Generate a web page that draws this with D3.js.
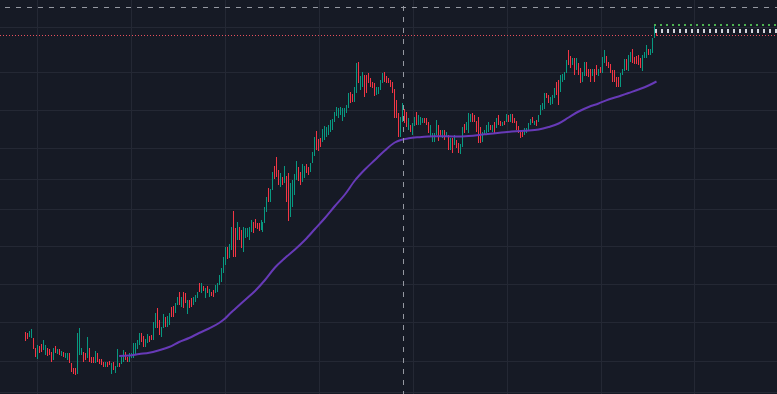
<!DOCTYPE html>
<html>
<head>
<meta charset="utf-8">
<script src="https://cdn.jsdelivr.net/npm/d3@7"></script>
<style>
  html, body { margin: 0; padding: 0; background: #161a25; overflow: hidden; }
  svg { display: block; }
</style>
</head>
<body>
<svg id="chart" width="777" height="394"></svg>
<script>
// ---- data (bar index = time, values in price units) ----
const opens = [
  68,67,63,62,62,52,41,54,56,50, 45,52,51,48,40,54,46,51,44,48,
  42,40,47,37,32,32,26,45,45,48, 47,42,52,43,43,37,47,41,41,38,
  33,38,39,26,38,27,33,37,36,38, 48,43,38,42,42,46,51,55,67,64,
  53,57,64,65,60,72,92,80,63,72, 83,73,75,93,94,87,95,108,93,108,
  107,86,100,102,95,98,102,117,107,114, 102,114,103,108,110,107,108,115,118,127,
  135,153,142,150,189,172,160,173,170,148, 162,163,160,168,178,181,177,177,170,168,
  177,188,212,198,210,234,243,230,213,223, 217,224,227,183,193,205,220,233,228,218,
  222,236,233,228,237,244,269,261,262,258, 260,263,265,268,270,278,284,282,285,279,
  283,287,292,308,306,298,307,338,310,313, 325,325,327,322,318,317,305,306,310,317,
  328,324,322,320,318,311,300,287,263,278, 291,288,270,275,265,274,288,275,275,277,
  282,282,278,263,258,258,265,275,270,262, 270,263,265,250,262,255,260,257,246,253,
  276,270,267,278,287,285,279,283,273,258, 265,267,268,275,268,278,272,285,279,274,
  279,278,285,278,286,282,279,274,270,268, 265,267,270,275,283,275,280,278,285,290,
  291,307,305,295,296,302,318,320,308,318, 320,327,350,344,335,342,330,337,332,318,
  324,338,331,331,324,331,335,324,333,327, 337,344,338,336,330,330,323,323,313,325,
  329,341,329,338,351,343,344,345,342,329, 342,342,351,345,347,362,367
];
const closes = [
  59,61,69,71,51,43,55,47,48,60, 55,44,45,38,52,47,51,45,49,43,
  47,47,37,28,26,25,67,72,52,38, 40,63,38,37,37,49,38,36,35,33,
  38,33,35,37,30,34,51,33,43,50, 40,38,47,47,57,57,60,67,58,53,
  61,66,58,60,78,87,72,65,73,86, 73,84,87,83,83,97,103,95,103,92,
  97,100,92,93,103,105,108,108,117,109, 112,107,111,104,103,115,117,125,132,143,
  153,141,156,173,143,143,178,160,152,173, 172,172,173,180,167,172,171,169,180,178,
  193,203,198,211,228,221,223,215,227,215, 234,198,179,217,220,226,239,219,215,236,
  234,227,225,237,248,263,250,249,253,271, 274,273,275,280,281,288,293,292,293,292,
  292,295,307,297,298,313,337,317,324,328, 303,307,317,313,312,304,313,313,320,327,
  318,317,317,313,307,282,282,263,283,297, 277,273,282,268,277,283,275,285,283,282,
  277,275,267,275,267,267,280,259,263,270, 260,268,250,262,247,265,252,247,256,273,
  267,278,287,286,278,278,268,257,257,268, 270,275,278,270,275,267,282,275,274,278,
  275,286,278,286,277,277,270,267,262,263, 272,272,277,281,277,279,274,285,295,297,
  307,302,297,303,305,312,305,295,325,326, 328,340,335,332,342,325,342,325,317,328,
  338,324,323,318,331,318,325,331,327,343, 350,334,332,327,318,318,313,313,327,331,
  341,330,345,348,337,336,336,335,332,345, 348,355,345,351,362,376,364
];
// moving average readings (bar index, value)
const maIndex = [47,52,57,62,67,72,77,82,87,92,97,100,102,105,110,115,120,125,130,135,
  140,145,150,155,160,165,170,175,180,185,188,192,197,205,215,222,230,240,250,257,
  262,267,272,277,282,287,292,297,302,307,312,316];
const maValues = [44,44.5,46,47.2,49.8,53,58,62,67,71.5,77,81.5,85.5,91,100,109,120,132.5,142,150.5,
  160,171,182,194,205.5,219.5,230.5,240,249.5,257.5,260,261.7,262.8,263.8,263.5,264,265.7,267.7,269.3,270.5,
  273,276.5,282.5,288.5,293,296.5,300.5,303.5,307,310.5,314.5,318.5];
// grid ticks
const priceTicks = [373, 328, 290, 252, 221, 191, 154, 116, 78, 39, 8];
const timeTicks = [6, 53, 100, 147, 194, 241, 288, 335];
// crosshair and level lines
const crossIndex = 189;
const crossValue = 393;
const redLevel = 365;
const greenLevel = 375;
const greyLevel = 369;
const levelStartIndex = 315;

// ---- drawing ----
const W = 777, H = 394;
const svg = d3.select("#chart");
const xs = d3.scaleLinear().domain([0, 316]).range([25.3, 656.5]);
const ys = d3.scaleLinear().domain([0, 400]).range([400, 0]);
const px = v => Math.round(v) + 0.5;

svg.append("rect").attr("width", W).attr("height", H).attr("fill", "#161a25");

const grid = svg.append("g").attr("stroke", "#242834").attr("stroke-width", 1).attr("shape-rendering", "crispEdges");
grid.selectAll("line.h").data(priceTicks).join("line").attr("class", "h")
  .attr("x1", 0).attr("x2", W)
  .attr("y1", d => px(ys(d))).attr("y2", d => px(ys(d)));
grid.selectAll("line.v").data(timeTicks).join("line").attr("class", "v")
  .attr("y1", 0).attr("y2", H)
  .attr("x1", d => px(xs(d))).attr("x2", d => px(xs(d)));

// red dotted level line
svg.append("line")
  .attr("x1", 0).attr("x2", W)
  .attr("y1", px(ys(redLevel))).attr("y2", px(ys(redLevel)))
  .attr("stroke", "#e8505e").attr("stroke-width", 1)
  .attr("stroke-dasharray", "1,2").attr("shape-rendering", "crispEdges");

// bars
const bars = opens.map((o, i) => ({ i, o, c: closes[i] }));
svg.append("g").attr("shape-rendering", "crispEdges")
  .selectAll("rect").data(bars).join("rect")
  .attr("x", d => Math.floor(xs(d.i)))
  .attr("width", 1)
  .attr("y", d => Math.round(ys(Math.max(d.o, d.c))))
  .attr("height", d => Math.max(1, Math.round(ys(Math.min(d.o, d.c))) - Math.round(ys(Math.max(d.o, d.c)))))
  .attr("fill", d => d.c >= d.o ? "#089981" : "#f23645");

// moving average
const maData = maIndex.map((i, k) => [i, maValues[k]]);
svg.append("path")
  .datum(maData)
  .attr("fill", "none")
  .attr("stroke", "#673ab7")
  .attr("stroke-width", 2)
  .attr("stroke-linejoin", "round")
  .attr("d", d3.line().x(d => xs(d[0])).y(d => ys(d[1])).curve(d3.curveMonotoneX));

// green dotted level
svg.append("line")
  .attr("x1", Math.floor(xs(levelStartIndex))).attr("x2", W)
  .attr("y1", Math.round(ys(greenLevel))).attr("y2", Math.round(ys(greenLevel)))
  .attr("stroke", "#4caf50").attr("stroke-width", 2)
  .attr("stroke-dasharray", "2,4").attr("shape-rendering", "crispEdges");

// grey blocks level
svg.append("line")
  .attr("x1", Math.floor(xs(levelStartIndex)) + 1).attr("x2", W)
  .attr("y1", Math.round(ys(greyLevel))).attr("y2", Math.round(ys(greyLevel)))
  .attr("stroke", "#d1d4dc").attr("stroke-width", 4)
  .attr("stroke-dasharray", "2,4").attr("shape-rendering", "crispEdges");

// crosshair
svg.append("line")
  .attr("x1", 0).attr("x2", W)
  .attr("y1", px(ys(crossValue))).attr("y2", px(ys(crossValue)))
  .attr("stroke", "#9598a1").attr("stroke-width", 1)
  .attr("stroke-dasharray", "5,6").attr("stroke-dashoffset", 6)
  .attr("shape-rendering", "crispEdges");
svg.append("line")
  .attr("y1", 0).attr("y2", H)
  .attr("x1", px(xs(crossIndex))).attr("x2", px(xs(crossIndex)))
  .attr("stroke", "#9598a1").attr("stroke-width", 1)
  .attr("stroke-dasharray", "5,6").attr("stroke-dashoffset", 5)
  .attr("shape-rendering", "crispEdges");
</script>
</body>
</html>
